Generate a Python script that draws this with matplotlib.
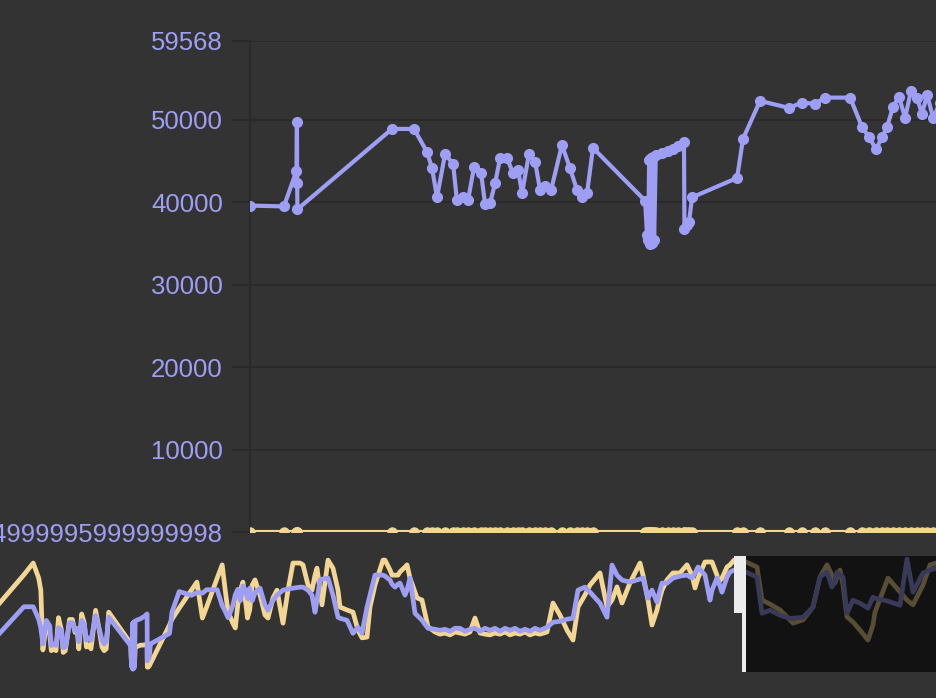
import matplotlib.pyplot as plt

plt.rcParams['font.family'] = ['Liberation Sans', 'DejaVu Sans']

# time stamps shared by both series
t = [0, 14.3, 19.6, 19.8, 19.9, 20.0, 59.9, 69.2, 74.7, 76.8, 78.9,
     82.3, 85.7, 87.3, 89.9, 92.0, 94.5, 97.5, 99.2, 101.3, 103.4,
     105.5, 108.4, 111.0, 113.1, 114.8, 117.7, 120.3, 122.4, 124.5, 127.0,
     131.6, 135.0, 138.0, 140.1, 142.2, 144.7, 166.7,
     167.5, 168.0, 168.4, 168.8, 169.2, 169.6, 170.0, 170.5, 171.2, 173.8,
     176.4, 178.5, 180.6, 183.1, 183.3, 184.2, 185.2, 186.5,
     205.5, 208.0, 215.2, 227.4, 232.9, 238.4, 242.6, 253.2, 258.2, 261.2,
     264.1, 266.7, 268.8, 271.3, 273.8, 276.4, 278.9, 281.4, 283.5, 285.7,
     288.2, 291,
     296, 301, 304, 309, 313, 319, 324, 329, 336, 339, 344, 348, 351, 353,
     356, 358, 364, 369, 374, 376, 383, 389, 394, 398, 403, 406, 411, 419,
     421, 426, 428, 431, 434, 436, 441, 443, 446, 451, 453, 458, 464,
     471, 476, 481, 486, 491, 496, 501, 506, 511, 516, 521, 526, 531, 536,
     541, 546, 551, 556, 561, 566, 571, 576, 583, 589, 596, 603, 609, 614,
     621, 626, 636, 643, 648, 653, 658, 666, 676, 679, 684, 688, 693, 696,
     698, 703, 709, 716, 723, 728, 731, 734, 741, 746, 748, 753, 754, 758,
     763, 766, 770, 776, 782, 793, 798, 806, 816, 826, 829, 839, 849, 856,
     863, 868, 871, 873, 876, 879, 883, 889, 896, 904, 909, 911, 924, 936,
     943, 949, 959, 966, 972, 981]

purple = [39600, 39500, 43800, 49700, 42400, 39150, 48900, 48900, 46100, 44150, 40600,
          45850, 44650, 40250, 40600, 40250, 44250, 43550, 39750, 39900, 42300,
          45350, 45350, 43550, 43900, 41100, 45850, 44900, 41450, 41950, 41450,
          46950, 44150, 41450, 40600, 41100, 46600, 40200,
          36000, 35400, 45100, 35000, 45350, 35100, 45500, 35400, 45700, 46000,
          46200, 46500, 46800, 47300, 36800, 37200, 37550, 40600,
          42950, 47700, 52300, 51450, 52100, 51950, 52700, 52700, 49150, 47900,
          46450, 47900, 49150, 51600, 52800, 50250, 53550, 52700, 50750, 53050,
          50250, 52000,
          53060, 49249, 48128, 50370, 51491, 52612, 52836, 53060, 53284, 53284,
          52612, 51491, 47679, 50370, 54854, 55078, 55302, 51491, 46558, 46334,
          45886, 42971, 44316, 42971, 48800, 51491, 55975, 55975, 55751, 54854,
          53957, 53284, 53957, 54181, 51491, 52612, 55302, 47455, 47007, 45886,
          44092, 43868, 43644, 43868, 43420, 44092, 44092, 43420, 43868, 44092,
          43420, 44092, 43644, 44092, 43420, 44092, 43644, 44092, 43420, 43868,
          43420, 44092, 43644, 44316, 45437, 45662, 46110, 46334, 52612, 53284,
          52163, 49697, 46558, 58217, 55975, 54854, 54405, 55078, 55302, 50818,
          52612, 49921, 52612, 54181, 54181, 55302, 55751, 55975, 55302, 56423,
          57768, 55975, 50370, 52612, 55302, 54854, 52163, 55526, 56647, 57096,
          56871, 56647, 55526, 47455, 48128, 47007, 46334, 46334, 46558, 48800,
          55526, 56647, 53284, 54854, 56647, 55975, 55526, 47455, 50370, 49697,
          48576, 51042, 50818, 50146, 49249, 59568, 52163, 56423, 57096, 57544,
          57096]

yellow = [0.29, 0.56, 0.81, 0.81, 0.81, 0.80, 2.07, 2.39, 1.98, 1.65, 0.02,
          0.75, 0.45, 0.0, 0.05, 0.0, 0.90, 0.55, -0.05, 0.0, 0.40,
          0.85, 0.85, 0.50, 0.60, 0.05, 1.00, 0.75, 0.10, 0.15, 0.05,
          1.10, 0.60, 0.10, 0.0, 0.05, 1.05, 0.20,
          -0.40, -0.45, 0.10, -0.4999996, 0.10, -0.45, 0.10, -0.40, 0.12, 0.12,
          0.15, 0.15, 0.16, 0.18, -0.45, -0.45, -0.42, -0.35,
          0.70, 0.86, 1.16, 1.65, 1.87, 0.89, 1.19, 1.98, 2.34, 1.65,
          1.05, 0.89, 0.75, 0.62, 1.25, 1.65, 1.87, 1.38, 0.89, 1.11,
          1.79, 1.93,
          1.52, 0.97, 0.89, 1.44, 1.65, 0.75, 1.65, 2.39, 2.39, 2.34,
          1.79, 1.65, 2.06, 2.25, 1.65, 1.25, 2.47, 2.25, 1.65, 1.19,
          1.11, 1.05, 0.56, 0.35, 0.37, 1.19, 1.79, 2.47, 2.47, 2.20,
          2.06, 2.06, 2.06, 2.15, 2.28, 2.34, 1.98, 1.60, 1.44, 1.38,
          0.65, 0.51, 0.45, 0.48, 0.43, 0.51, 0.48, 0.45, 0.51, 0.89,
          0.48, 0.45, 0.43, 0.48, 0.45, 0.51, 0.43, 0.48, 0.45, 0.51,
          0.43, 0.48, 0.45, 0.51, 1.30, 0.97, 0.56, 0.29, 1.19, 1.52,
          1.79, 2.12, 1.19, 1.38, 1.74, 1.30, 1.85, 2.39, 2.06, 1.38,
          0.70, 1.11, 1.46, 1.65, 1.93, 2.12, 2.12, 2.34, 2.06, 1.71,
          1.98, 2.42, 2.42, 2.42, 2.06, 1.85, 1.98, 2.28, 2.34, 2.47,
          2.45, 2.42, 2.28, 1.38, 1.27, 1.11, 0.84, 0.75, 0.84, 1.19,
          2.01, 2.34, 2.06, 1.85, 2.01, 2.20, 1.79, 0.92, 0.78, 0.56,
          0.29, 0.70, 1.05, 1.98, 1.60, 1.38, 1.25, 1.79, 2.34, 2.39,
          2.34]

ytick_vals = [-0.4999996, 10000, 20000, 30000, 40000, 50000, 59568]
ytick_labels = ['-0.4999995999999998', '10000', '20000', '30000', '40000', '50000', '59568']

# zoom window (in t units)
win_start, win_end = 0, 778

bg = '#333333'
line_dark = '#2a2a2a'
c_purple = '#9e9ef5'
c_yellow = '#f3d693'

W, H = 936, 698
fig = plt.figure(figsize=(W / 100, H / 100), dpi=100, facecolor=bg)

# main chart
ax = fig.add_axes([250 / W, (H - 532) / H, (2094 - 250) / W, (532 - 41) / H])
ax.set_facecolor(bg)
ax.plot(t, yellow, color=c_yellow, lw=3.0, marker='o', ms=6.5, zorder=3)
ax.plot(t, purple, color=c_purple, lw=3.0, marker='o', ms=7, zorder=4)
ax.set_xlim(win_start, win_end)
ax.set_ylim(-0.4999996, 59568)
ax.set_yticks(ytick_vals)
ax.set_yticklabels(ytick_labels)
ax.set_xticks([])
ax.grid(axis='y', color=line_dark, lw=1.3)
ax.tick_params(axis='y', direction='out', length=13, width=1.3, color=line_dark,
               labelcolor=c_purple, labelsize=18.5, pad=6.5)
for side in ['top', 'right', 'bottom']:
    ax.spines[side].set_visible(False)
ax.spines['left'].set_color(line_dark)
ax.spines['left'].set_linewidth(1.3)

# data zoom slider
slider_rect = [-36 / W, (H - 672) / H, (W + 36) / W, 116 / H]
yax = fig.add_axes(slider_rect)
yax.set_facecolor('none')
yax.plot(t, yellow, color=c_yellow, lw=3.4)
yax.set_xlim(0, 972)
yax.set_ylim(-0.5 - 3 * 0.0273, 2.5 + 3 * 0.0273)
yax.axis('off')

pax = fig.add_axes(slider_rect)
pax.set_facecolor('none')
pax.plot(t, purple, color=c_purple, lw=3.4)
pmin, pmax = min(purple), max(purple)
pad = (pmax - pmin) * 3 / 110
pax.set_xlim(0, 972)
pax.set_ylim(pmin - pad, pmax + pad)
pax.axis('off')

# shaded region outside the window and the handle
pax.axvspan(win_end + 4, 972, color='black', alpha=0.64, lw=0, zorder=5)
pax.axvspan(win_end - 8, win_end + 4, ymin=0.509, ymax=1, color='#ececec', lw=0, zorder=6)
pax.axvspan(win_end, win_end + 4, ymin=0, ymax=1, color='#ececec', lw=0, zorder=6)

fig.savefig('out.png', dpi=100, facecolor=bg)
